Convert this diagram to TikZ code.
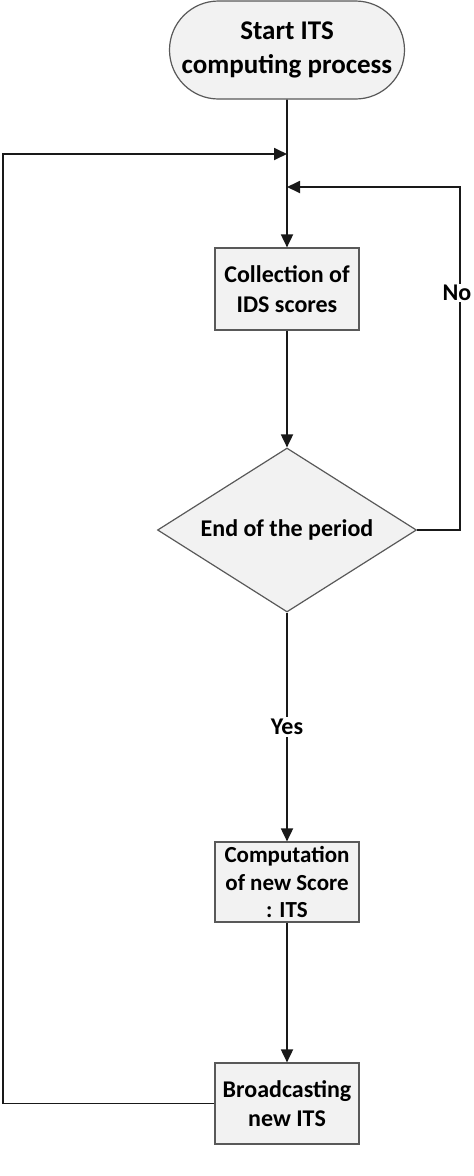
\documentclass[tikz,border=0pt]{standalone}
\usepackage{fontspec}
\setmainfont{Carlito}
\usetikzlibrary{arrows.meta,shapes.geometric,shapes.misc}
\begin{document}
\begin{tikzpicture}[x=1pt,y=-1pt,
  line/.style={line width=1.8pt, draw=black!90},
  arr/.style={line, -{Triangle[length=13pt,width=12pt]}},
  boxfill/.style={draw=black!65, line width=1.2pt, fill=black!5},
  stepbox/.style={boxfill, rectangle, minimum width=144pt, inner sep=0pt, align=center,
    font=\fontsize{24}{29.5}\selectfont\bfseries},
  lbl/.style={fill=white, inner sep=2pt, font=\fontsize{24}{29}\selectfont\bfseries}
]
\useasboundingbox (0,0) rectangle (474,1176);
\node[boxfill, rounded rectangle, minimum width=235pt, minimum height=98pt, inner sep=0pt,
  align=center, font=\fontsize{27}{34}\selectfont\bfseries] (start) at (287,50)
  {Start ITS\\computing process};
\node[stepbox, minimum height=82pt] (coll) at (287,289) {Collection of\\IDS scores};
\node[boxfill, diamond, aspect=1.58, minimum width=259pt, minimum height=164pt, inner sep=0pt,
  font=\fontsize{24}{29}\selectfont\bfseries] (dec) at (287,530) {End of the period};
\node[stepbox, minimum height=80pt, font=\fontsize{23}{27.5}\selectfont\bfseries] (comp) at (287,882)
  {Computation\\of new Score\\: ITS};
\node[stepbox, minimum height=81pt] (bcast) at (287,1103.5) {Broadcasting\\new ITS};
\coordinate (m1) at (287,154);
\coordinate (m2) at (287,187);
\coordinate (L1) at (3,154);
\coordinate (R1) at (460,187);
\draw[arr] (start) -- (coll);
\draw[arr] (coll) -- (dec.north);
\draw[arr] (dec.south) -- node[lbl, pos=0.5] {Yes} (comp.north);
\draw[arr] (comp) -- (bcast);
\draw[arr] (dec.east) -| (R1) -- (m2);
\node[lbl, inner sep=1pt] (no) at (457,293) {No};
\draw[arr] (bcast.west) -| (L1) -- (m1);
\end{tikzpicture}
\end{document}
